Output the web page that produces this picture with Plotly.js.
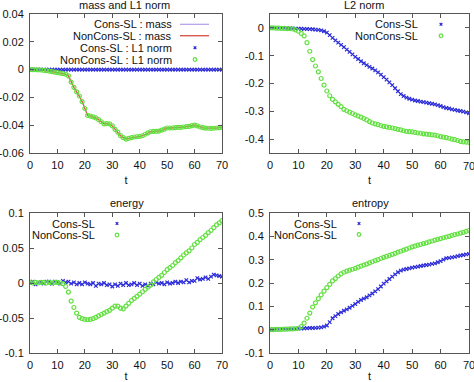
<!DOCTYPE html>
<html>
<head>
<meta charset="utf-8">
<script src="https://cdn.plot.ly/plotly-3.0.1.min.js"></script>
<style>html,body{margin:0;padding:0;background:#fff;}#chart{width:474px;height:382px;}</style>
</head>
<body>
<div id="chart"></div>
<script>
// ---- data ----
const t = [0,1,2,3,4,5,6,7,8,9,10,11,12,13,14,15,16,17,18,19,20,21,22,23,24,25,26,27,28,29,30,31,32,33,34,35,36,37,38,39,40,41,42,43,44,45,46,47,48,49,50,51,52,53,54,55,56,57,58,59,60,61,62,63,64,65,66,67,68,69,70];

const consMass = [0,0,0,0,0,0,0,0,0,0,0,0,0,0,0,0,0,0,0,0,0,0,0,0,0,0,0,0,0,0,0,0,0,0,0,0,0,0,0,0,0,0,0,0,0,0,0,0,0,0,0,0,0,0,0,0,0,0,0,0,0,0,0,0,0,0,0,0,0,0,0];
const consL1 = [0,0,0,0,0,0,0,0,0,0,0,0,0,0,0,0,0,0,0,0,0,0,0,0,0,0,0,0,0,0,0,0,0,0,0,0,0,0,0,0,0,0,0,0,0,0,0,0,0,0,0,0,0,0,0,0,0,0,0,0,0,0,0,0,0,0,0,0,0,0,0];
const nonConsMass = [0,0,-0.0001,-0.0002,-0.0003,-0.0005,-0.0008,-0.0011,-0.0014,-0.0018,-0.0022,-0.0026,-0.0029,-0.0033,-0.0045,-0.009,-0.0128,-0.016,-0.019,-0.023,-0.028,-0.033,-0.0335,-0.034,-0.0348,-0.036,-0.0375,-0.039,-0.0388,-0.039,-0.0405,-0.043,-0.045,-0.0475,-0.049,-0.05,-0.0495,-0.049,-0.0485,-0.0483,-0.048,-0.0476,-0.0465,-0.0455,-0.0447,-0.0445,-0.0445,-0.0442,-0.0435,-0.0428,-0.042,-0.042,-0.042,-0.0418,-0.0416,-0.0415,-0.0413,-0.041,-0.0408,-0.0403,-0.04,-0.0405,-0.0413,-0.0418,-0.0421,-0.0422,-0.0423,-0.0422,-0.042,-0.0417,-0.0414];
const nonConsL1 = [0,0,-0.0001,-0.0002,-0.0003,-0.0005,-0.0008,-0.0011,-0.0014,-0.0018,-0.0022,-0.0026,-0.0029,-0.0033,-0.0045,-0.009,-0.0128,-0.016,-0.019,-0.023,-0.028,-0.033,-0.0335,-0.034,-0.0348,-0.036,-0.0375,-0.039,-0.0388,-0.039,-0.0405,-0.043,-0.045,-0.0475,-0.049,-0.05,-0.0495,-0.049,-0.0485,-0.0483,-0.048,-0.0476,-0.0465,-0.0455,-0.0447,-0.0445,-0.0445,-0.0442,-0.0435,-0.0428,-0.042,-0.042,-0.042,-0.0418,-0.0416,-0.0415,-0.0413,-0.041,-0.0408,-0.0403,-0.04,-0.0405,-0.0413,-0.0418,-0.0421,-0.0422,-0.0423,-0.0422,-0.042,-0.0417,-0.0414];

const consL2 = [0,0,0,-0.0005,-0.001,-0.001,-0.0015,-0.002,-0.002,-0.0025,-0.003,-0.003,-0.0035,-0.004,-0.0045,-0.005,-0.006,-0.007,-0.009,-0.012,-0.017,-0.026,-0.036,-0.045,-0.053,-0.061,-0.069,-0.078,-0.086,-0.095,-0.104,-0.112,-0.12,-0.127,-0.134,-0.14,-0.146,-0.153,-0.16,-0.168,-0.177,-0.186,-0.196,-0.206,-0.217,-0.228,-0.238,-0.245,-0.251,-0.255,-0.258,-0.261,-0.263,-0.265,-0.267,-0.269,-0.271,-0.273,-0.275,-0.278,-0.281,-0.285,-0.288,-0.29,-0.293,-0.295,-0.297,-0.299,-0.301,-0.304,-0.307];
const nonConsL2 = [0,0,-0.0005,-0.001,-0.0015,-0.002,-0.0025,-0.003,-0.004,-0.007,-0.012,-0.02,-0.029,-0.053,-0.084,-0.114,-0.137,-0.158,-0.182,-0.206,-0.227,-0.244,-0.257,-0.266,-0.275,-0.283,-0.293,-0.298,-0.303,-0.308,-0.313,-0.317,-0.321,-0.326,-0.331,-0.337,-0.342,-0.345,-0.348,-0.351,-0.354,-0.356,-0.358,-0.36,-0.362,-0.365,-0.367,-0.37,-0.372,-0.373,-0.374,-0.376,-0.378,-0.379,-0.381,-0.382,-0.383,-0.385,-0.386,-0.388,-0.391,-0.393,-0.395,-0.397,-0.4,-0.402,-0.405,-0.408,-0.41,-0.411,-0.412];

const consEnergy = [0,0.002,-0.002,0.001,0.001,-0.001,0.002,0.002,-0.001,0.002,0.001,-0.001,0.003,0.001,0.002,-0.001,0.001,-0.002,0,-0.002,0.001,-0.001,-0.002,0,-0.004,-0.001,-0.002,0,-0.003,-0.002,-0.005,-0.002,-0.004,-0.001,-0.003,0,-0.003,-0.002,0,-0.003,-0.001,-0.004,-0.002,-0.004,-0.001,-0.002,0.001,-0.001,0,-0.002,0.001,-0.001,0,0.002,0,0.002,0.001,0.004,0.001,0.003,0.003,0.007,0.005,0.006,0.008,0.006,0.009,0.012,0.011,0.01,0.009];
const nonConsEnergy = [0.001,0,0.001,0,0.001,0.001,0,0.001,0,0.001,0.001,0,-0.001,-0.005,-0.013,-0.026,-0.035,-0.043,-0.049,-0.051,-0.052,-0.0525,-0.052,-0.051,-0.049,-0.047,-0.045,-0.043,-0.041,-0.039,-0.036,-0.033,-0.033,-0.036,-0.037,-0.033,-0.029,-0.025,-0.022,-0.019,-0.016,-0.0125,-0.009,-0.006,-0.003,0.0015,0.005,0.008,0.011,0.015,0.019,0.022,0.025,0.029,0.032,0.036,0.04,0.043,0.046,0.05,0.055,0.058,0.062,0.065,0.068,0.072,0.075,0.079,0.083,0.086,0.089];

const consEntropy = [0,0,0.001,0.001,0.002,0.002,0.002,0.003,0.003,0.004,0.005,0.005,0.006,0.006,0.007,0.007,0.008,0.009,0.01,0.013,0.018,0.032,0.049,0.058,0.067,0.074,0.081,0.087,0.094,0.102,0.11,0.119,0.127,0.133,0.139,0.147,0.155,0.164,0.174,0.185,0.197,0.207,0.217,0.227,0.237,0.246,0.253,0.257,0.26,0.263,0.266,0.268,0.27,0.273,0.275,0.277,0.279,0.282,0.284,0.289,0.294,0.3,0.306,0.308,0.31,0.312,0.315,0.318,0.32,0.323,0.325];
const nonConsEntropy = [0,0,0.001,0.001,0.001,0.002,0.002,0.003,0.003,0.004,0.006,0.013,0.028,0.049,0.071,0.097,0.115,0.133,0.149,0.165,0.18,0.194,0.209,0.219,0.23,0.239,0.246,0.251,0.255,0.259,0.263,0.268,0.272,0.277,0.281,0.286,0.291,0.296,0.3,0.305,0.31,0.314,0.318,0.323,0.327,0.332,0.336,0.341,0.345,0.35,0.355,0.358,0.362,0.365,0.369,0.372,0.376,0.38,0.384,0.387,0.39,0.394,0.397,0.4,0.404,0.407,0.41,0.414,0.417,0.421,0.425];

const panelTitles = ["mass and L1 norm", "L2 norm", "energy", "entropy"];
const xTickVals = [0,10,20,30,40,50,60,70];
const xTickText = ["0","10","20","30","40","50","60","70"];
const xTickValsR = [0,10,20,30,40,50,60];
const xTickTextR = ["0","10","20","30","40","50","60"];
const y1TickVals = [0.04,0.02,0,-0.02,-0.04,-0.06];
const y1TickText = ["0.04","0.02","0","-0.02","-0.04","-0.06"];
const y2TickVals = [0,-0.1,-0.2,-0.3,-0.4];
const y2TickText = ["0","-0.1","-0.2","-0.3","-0.4"];
const y3TickVals = [0.1,0.05,0,-0.05,-0.1];
const y3TickText = ["0.1","0.05","0","-0.05","-0.1"];
const y4TickVals = [0.5,0.4,0.3,0.2,0.1,0,-0.1];
const y4TickText = ["0.5","0.4","0.3","0.2","0.1","0","-0.1"];
const legend1 = ["Cons-SL : mass","NonCons-SL : mass","Cons-SL : L1 norm","NonCons-SL : L1 norm"];
const legend2 = ["Cons-SL","NonCons-SL"];

// ---- styles ----
const W = 474, H = 382;
const BLUE = '#2a2ad8', GREEN = '#62e040', LAV = '#b49ae8', RED = '#d85a50';
const FONT = {family: 'Liberation Sans, Arial, sans-serif', size: 11, color: '#111'};
const px = v => v / W, py = v => 1 - v / H;

function blueMarks(x, y, xa, ya) {
  return {x: x, y: y, xaxis: xa, yaxis: ya, mode: 'markers', type: 'scatter', showlegend: false,
    marker: {symbol: 'x-thin-open', size: 3.5, color: BLUE, line: {color: BLUE, width: 1.2}}, hoverinfo: 'skip'};
}
function greenMarks(x, y, xa, ya) {
  return {x: x, y: y, xaxis: xa, yaxis: ya, mode: 'markers', type: 'scatter', showlegend: false,
    marker: {symbol: 'circle-open', size: 4, color: GREEN, line: {color: GREEN, width: 1.2}}, hoverinfo: 'skip'};
}

const traces = [
  {x: t, y: consMass, xaxis: 'x', yaxis: 'y', mode: 'lines', type: 'scatter', showlegend: false, line: {color: LAV, width: 1.2}, hoverinfo: 'skip'},
  {x: t, y: nonConsMass, xaxis: 'x', yaxis: 'y', mode: 'lines', type: 'scatter', showlegend: false, line: {color: RED, width: 1.4}, hoverinfo: 'skip'},
  blueMarks(t, consL1, 'x', 'y'),
  greenMarks(t, nonConsL1, 'x', 'y'),
  blueMarks(t, consL2, 'x2', 'y2'),
  greenMarks(t, nonConsL2, 'x2', 'y2'),
  blueMarks(t, consEnergy, 'x3', 'y3'),
  greenMarks(t, nonConsEnergy, 'x3', 'y3'),
  blueMarks(t, consEntropy, 'x4', 'y4'),
  greenMarks(t, nonConsEntropy, 'x4', 'y4')
];

const dxL = [px(30), px(222)], dxR = [px(270), px(469)];
const dyT = [py(153), py(14)], dyB = [py(353), py(213)];

function xAxis(domain, anchor, vals, text) {
  return {domain: domain, anchor: anchor, range: [0, 70], tickmode: 'array', tickvals: vals, ticktext: text,
    ticks: 'inside', ticklen: 4, tickcolor: '#555', showline: true, mirror: 'allticks', linecolor: '#555', linewidth: 1,
    showgrid: false, zeroline: false, tickfont: FONT, ticklabelstandoff: 2,
    title: {text: 't', font: FONT, standoff: 6}};
}
function yAxis(domain, anchor, range, vals, text) {
  return {domain: domain, anchor: anchor, range: range, tickmode: 'array', tickvals: vals, ticktext: text,
    ticks: 'inside', ticklen: 4, tickcolor: '#555', showline: true, mirror: 'allticks', linecolor: '#555', linewidth: 1,
    showgrid: false, zeroline: false, tickfont: FONT, ticklabelstandoff: 3};
}

const annotations = [];
const titlePos = [[124, 5], [364, 5], [127, 203], [370, 203]];
panelTitles.forEach((s, i) => annotations.push({text: s, x: px(titlePos[i][0]), y: py(titlePos[i][1]), xref: 'paper', yref: 'paper',
  xanchor: 'center', yanchor: 'middle', showarrow: false, font: FONT}));

// last tick label of the right-hand panels runs past the page edge, as in the original
[165.5, 364.5].forEach(yy => annotations.push({text: xTickText[xTickText.length - 1], x: px(469), xref: 'paper',
  y: py(yy), yref: 'paper', xanchor: 'center', yanchor: 'middle', showarrow: false, font: FONT}));

const shapes = [];
// legend of panel 1
const l1y = [24.3, 35.7, 47.7, 59.5];
legend1.forEach((s, i) => annotations.push({text: s, x: px(174), y: py(l1y[i]), xref: 'paper', yref: 'paper',
  xanchor: 'right', yanchor: 'middle', showarrow: false, font: FONT}));
shapes.push({type: 'line', xref: 'paper', yref: 'paper', x0: px(180), x1: px(209), y0: py(l1y[0]), y1: py(l1y[0]), line: {color: LAV, width: 1.2}});
shapes.push({type: 'line', xref: 'paper', yref: 'paper', x0: px(180), x1: px(209), y0: py(l1y[1]), y1: py(l1y[1]), line: {color: RED, width: 1.4}});

function xKey(cx, cy) {
  shapes.push({type: 'line', xref: 'paper', yref: 'paper', x0: px(cx - 1.3), x1: px(cx + 1.3), y0: py(cy - 1.3), y1: py(cy + 1.3), line: {color: BLUE, width: 1.2}});
  shapes.push({type: 'line', xref: 'paper', yref: 'paper', x0: px(cx - 1.3), x1: px(cx + 1.3), y0: py(cy + 1.3), y1: py(cy - 1.3), line: {color: BLUE, width: 1.2}});
}
function oKey(cx, cy) {
  shapes.push({type: 'circle', xref: 'paper', yref: 'paper', x0: px(cx - 1.8), x1: px(cx + 1.8), y0: py(cy + 1.8), y1: py(cy - 1.8), line: {color: GREEN, width: 1.2}});
}
xKey(195, l1y[2]); oKey(195, l1y[3]);

// legends of the other panels
const legs = [[420, 441, 24.3, 35.7], [97, 117, 223.5, 235], [339, 359, 223.5, 234.5]];
legs.forEach(L => {
  annotations.push({text: legend2[0], x: px(L[0]), y: py(L[2]), xref: 'paper', yref: 'paper', xanchor: 'right', yanchor: 'middle', showarrow: false, font: FONT});
  annotations.push({text: legend2[1], x: px(L[0]), y: py(L[3]), xref: 'paper', yref: 'paper', xanchor: 'right', yanchor: 'middle', showarrow: false, font: FONT});
  xKey(L[1], L[2]); oKey(L[1], L[3]);
});

const layout = {
  width: W, height: H, margin: {l: 0, r: 0, t: 0, b: 0}, paper_bgcolor: '#fff', plot_bgcolor: '#fff',
  showlegend: false, font: FONT,
  xaxis: xAxis(dxL, 'y', xTickVals, xTickText), yaxis: yAxis(dyT, 'x', [-0.06, 0.04], y1TickVals, y1TickText),
  xaxis2: xAxis(dxR, 'y2', xTickValsR, xTickTextR), yaxis2: yAxis(dyT, 'x2', [-0.45, 0.05], y2TickVals, y2TickText),
  xaxis3: xAxis(dxL, 'y3', xTickVals, xTickText), yaxis3: yAxis(dyB, 'x3', [-0.1, 0.1], y3TickVals, y3TickText),
  xaxis4: xAxis(dxR, 'y4', xTickValsR, xTickTextR), yaxis4: yAxis(dyB, 'x4', [-0.1, 0.5], y4TickVals, y4TickText),
  annotations: annotations, shapes: shapes
};

Plotly.newPlot('chart', traces, layout, {staticPlot: true, displayModeBar: false});
</script>
</body>
</html>
